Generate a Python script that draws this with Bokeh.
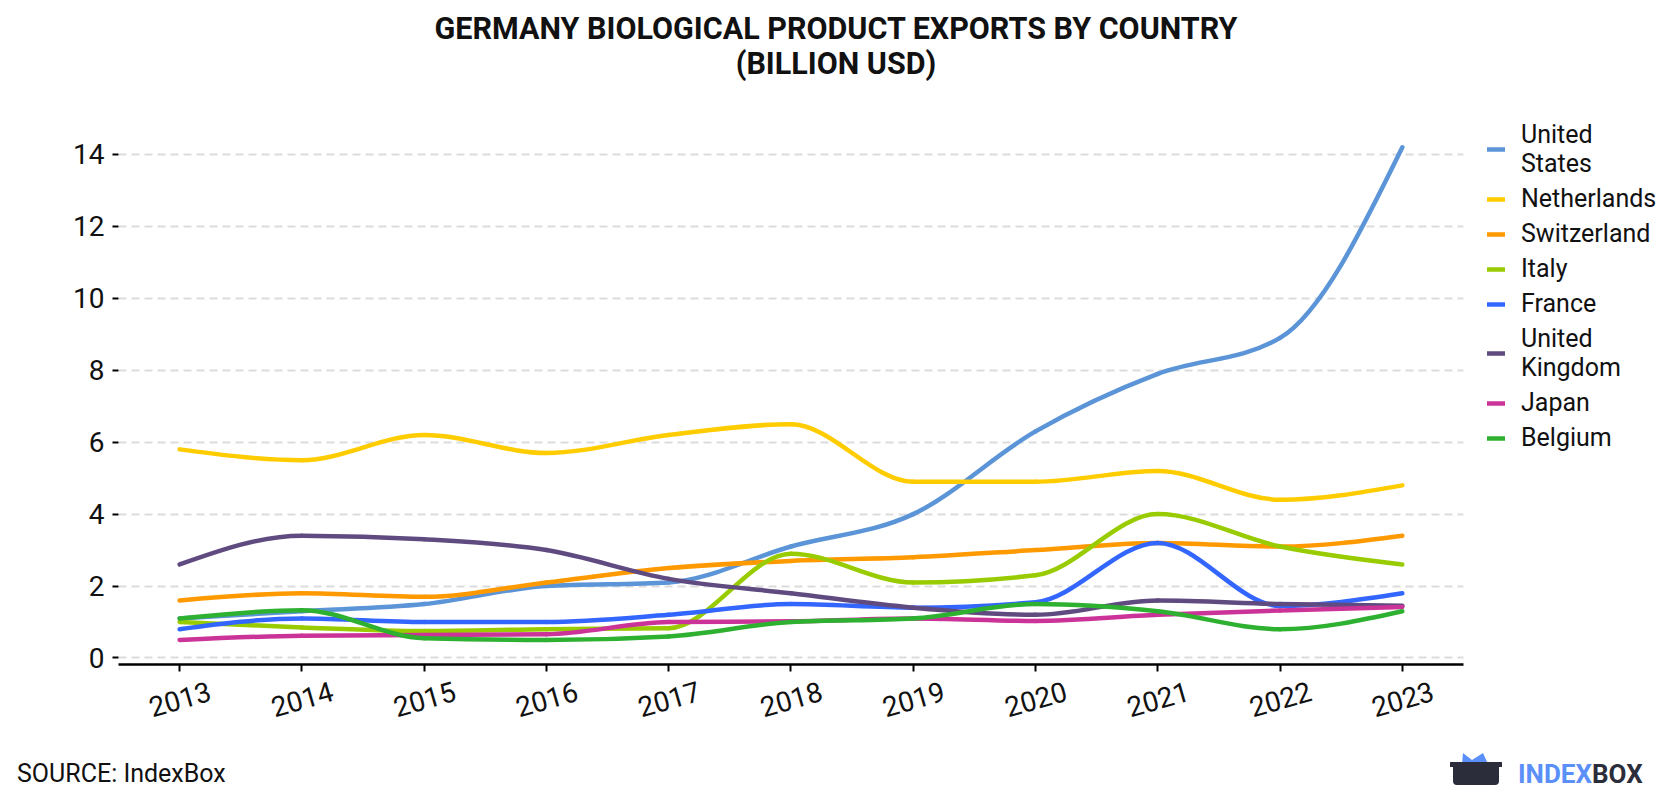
import numpy as np
from bokeh.plotting import figure
from bokeh.layouts import column
from bokeh.models import (ColumnDataSource, Div, FixedTicker, Legend,
                          LegendItem, LinearAxis, NumeralTickFormatter, Range1d)
from bokeh.embed import file_html
from bokeh.resources import INLINE

# ---- data (billion USD) ----
years = [2013, 2014, 2015, 2016, 2017, 2018, 2019, 2020, 2021, 2022, 2023]
united_states = [1.1, 1.3, 1.5, 2.0, 2.1, 3.1, 4.0, 6.3, 7.9, 8.9, 14.2]
netherlands = [5.8, 5.5, 6.2, 5.7, 6.2, 6.5, 4.9, 4.9, 5.2, 4.4, 4.8]
switzerland = [1.6, 1.8, 1.7, 2.1, 2.5, 2.7, 2.8, 3.0, 3.2, 3.1, 3.4]
italy = [1.0, 0.85, 0.75, 0.8, 0.83, 2.9, 2.1, 2.3, 4.0, 3.1, 2.6]
france = [0.8, 1.1, 1.0, 1.0, 1.2, 1.5, 1.4, 1.55, 3.2, 1.45, 1.8]
united_kingdom = [2.6, 3.4, 3.3, 3.0, 2.2, 1.8, 1.4, 1.2, 1.6, 1.5, 1.45]
japan = [0.5, 0.62, 0.64, 0.66, 1.0, 1.02, 1.1, 1.03, 1.2, 1.32, 1.42]
belgium = [1.1, 1.33, 0.55, 0.5, 0.6, 1.0, 1.1, 1.5, 1.3, 0.8, 1.3]

series_names = ["United\nStates", "Netherlands", "Switzerland", "Italy",
                "France", "United\nKingdom", "Japan", "Belgium"]
series_values = [united_states, netherlands, switzerland, italy,
                 france, united_kingdom, japan, belgium]
series_colors = ["#5b95d8", "#ffcc00", "#ff9900", "#99cc00",
                 "#3366ff", "#5f4b80", "#cc3399", "#2eb030"]

y_ticks = [0, 2, 4, 6, 8, 10, 12, 14]

title_lines = ["GERMANY BIOLOGICAL PRODUCT EXPORTS BY COUNTRY", "(BILLION USD)"]
source_text = "SOURCE: IndexBox"

# ---- page geometry ----
W = 1680
HEADER_H, FOOTER_H = 100, 55
FIG_H = 800 - HEADER_H - FOOTER_H            # 645
FRAME_L, FRAME_H = 118, 564                   # frame: x 118..1680, height 564
PX_PER_YEAR = 122.27
X0 = 2012.5
X_AXIS_END = 2023.5                            # axis line / grid stop here
X1 = X0 + (W - FRAME_L) / PX_PER_YEAR          # extra room on the right for the legend
Y0, Y1 = -0.181, 15.5


def monotone_segments(x, y):
    """Cubic Bezier segments of a monotone-in-x curve through the points."""
    x = np.asarray(x, dtype=float)
    y = np.asarray(y, dtype=float)
    n = len(x)
    h = np.diff(x)
    s = np.diff(y) / h
    t = np.zeros(n)
    for i in range(1, n - 1):
        p = (s[i - 1] * h[i] + s[i] * h[i - 1]) / (h[i - 1] + h[i])
        t[i] = (np.sign(s[i - 1]) + np.sign(s[i])) * min(abs(s[i - 1]), abs(s[i]), 0.5 * abs(p))
    t[0] = (3 * s[0] - t[1]) / 2
    t[-1] = (3 * s[-1] - t[-2]) / 2
    d = h / 3
    return dict(x0=x[:-1], y0=y[:-1], x1=x[1:], y1=y[1:],
                cx0=x[:-1] + d, cy0=y[:-1] + d * t[:-1],
                cx1=x[1:] - d, cy1=y[1:] - d * t[1:])


p = figure(width=W, height=FIG_H, output_backend="svg", toolbar_location=None,
           x_range=Range1d(X0, X1), y_range=Range1d(Y0, Y1),
           min_border_left=FRAME_L, min_border_right=0,
           min_border_top=0, min_border_bottom=FIG_H - FRAME_H)
p.outline_line_color = None
p.background_fill_color = "white"
p.border_fill_color = "white"

# grid
p.xgrid.grid_line_color = None
p.ygrid.grid_line_color = "#dcdcdc"
p.ygrid.grid_line_width = 2
p.ygrid.grid_line_dash = "8 5"
p.ygrid.cross_bounds = (X0, X_AXIS_END)

# y axis: ticks and labels, no axis line
p.yaxis.ticker = FixedTicker(ticks=y_ticks)
p.yaxis.axis_line_color = None
p.yaxis.major_tick_line_color = "black"
p.yaxis.major_tick_line_width = 2
p.yaxis.major_tick_out = 6
p.yaxis.major_tick_in = 0
p.yaxis.minor_tick_line_color = None
p.yaxis.major_label_standoff = 8
p.yaxis.major_label_text_font = "Roboto"
p.yaxis.major_label_text_font_size = "28px"
p.yaxis.major_label_text_color = "#111111"

# x axis: line and year ticks
xa = p.xaxis[0]
xa.ticker = FixedTicker(ticks=years)
xa.bounds = (X0, X_AXIS_END)
xa.axis_line_color = "black"
xa.axis_line_width = 2.5
xa.major_tick_line_color = "black"
xa.major_tick_line_width = 2
xa.major_tick_out = 7
xa.major_tick_in = 0
xa.minor_tick_line_color = None
xa.major_label_overrides = {yr: "" for yr in years}
xa.major_label_standoff = 0

# slanted year labels, centred under their ticks
LABEL_SHIFT = 0.25
year_labels = LinearAxis(ticker=FixedTicker(ticks=[yr + LABEL_SHIFT for yr in years]),
                         formatter=NumeralTickFormatter(format="0"),
                         axis_line_color=None, major_tick_line_color=None,
                         minor_tick_line_color=None, major_label_orientation=0.28,
                         major_label_standoff=13, major_label_text_font="Roboto",
                         major_label_text_font_size="28px",
                         major_label_text_color="#111111")
p.add_layout(year_labels, "below")

# series curves
items = []
for name, vals, color in zip(series_names, series_values, series_colors):
    src = ColumnDataSource(monotone_segments(years, vals))
    r = p.bezier(x0="x0", y0="y0", x1="x1", y1="y1", cx0="cx0", cy0="cy0",
                 cx1="cx1", cy1="cy1", source=src, line_color=color,
                 line_width=4.5, line_cap="round")
    items.append(LegendItem(label=name, renderers=[r]))

legend = Legend(items=items, location=(1369, 212), margin=0, padding=10,
                spacing=6, glyph_width=18, glyph_height=20, label_standoff=16,
                label_text_font="Roboto", label_text_font_size="25px",
                label_text_color="#111111", border_line_color=None,
                background_fill_alpha=0)
p.add_layout(legend)

# header with the two-line title
header = Div(width=W, height=HEADER_H, margin=0, text=f"""
<div style="position:relative;width:{W}px;height:{HEADER_H}px;font-family:Roboto;
            font-weight:bold;font-size:30.5px;color:#111111;">
  <div style="position:absolute;left:0;top:11px;width:1672px;text-align:center;
              line-height:36px;">{title_lines[0]}</div>
  <div style="position:absolute;left:0;top:46px;width:1672px;text-align:center;
              line-height:36px;">{title_lines[1]}</div>
</div>""")

# footer with the source note and the brand mark
footer = Div(width=W, height=FOOTER_H, margin=0, text=f"""
<div style="position:relative;width:{W}px;height:{FOOTER_H}px;font-family:Roboto;color:#111111;">
  <div style="position:absolute;left:17px;top:14px;font-size:25px;line-height:30px;">{source_text}</div>
  <svg style="position:absolute;left:1448px;top:6px;" width="56" height="36" viewBox="0 0 56 36">
    <polygon points="14,13 15,2 24,9 35,2 40,13 40,16 14,16" fill="#5b8ff9"/>
    <path d="M2,11 H54 V16 H51 V30 Q51,34 47,34 H9 Q5,34 5,30 V16 H2 Z" fill="#2b2d3a"/>
  </svg>
  <div style="position:absolute;left:1518px;top:14px;font-size:26px;line-height:30px;
              font-weight:bold;"><span style="color:#5b8ff9;">INDEX</span><span
              style="color:#2b2d3a;">BOX</span></div>
</div>""")

layout = column(header, p, footer, spacing=0)
open("out.html", "w").write(file_html(layout, INLINE))
